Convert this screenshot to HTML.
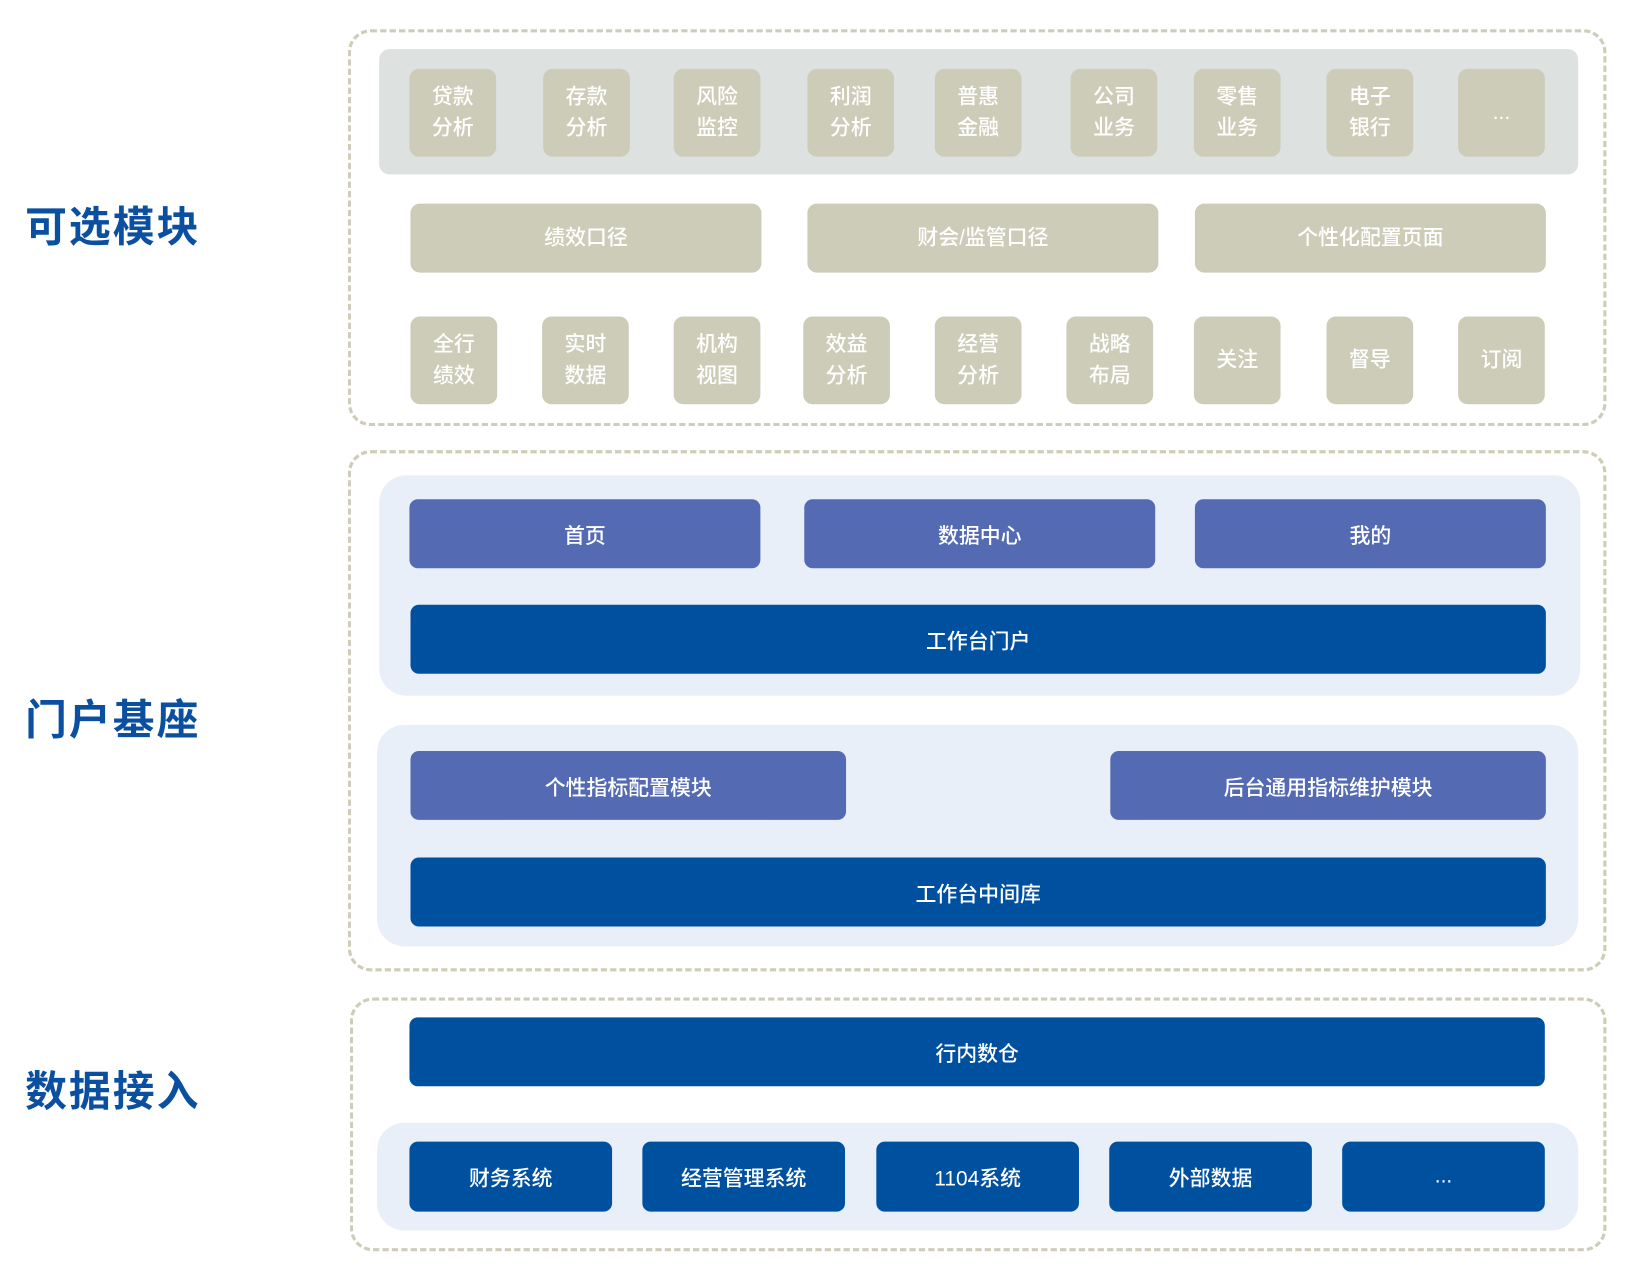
<!DOCTYPE html>
<html><head><meta charset="utf-8"><style>
html,body{margin:0;padding:0;background:#fff;width:1636px;height:1286px;overflow:hidden}
#w{position:absolute;left:0;top:0;width:1560px;height:1226px;transform:scale(1.0445);transform-origin:0 0;font-family:"Liberation Sans","Noto Sans CJK SC",sans-serif}
.a{position:absolute;box-sizing:border-box}
.d{border:3px dashed #cfcdb9;border-radius:22px}
.t{background:#cdccb8;border-radius:9px;color:#fff;font-size:20px;font-weight:500;line-height:30px;display:flex;align-items:center;justify-content:center;text-align:center}
.p{background:#e8eff9;border-radius:26px}
.b{border-radius:8px;color:#fff;font-size:20px;font-weight:500;display:flex;align-items:center;justify-content:center}
.m{background:#546bb3}.n{background:#0050a0}
.l{color:#0b4fa0;font-size:40px;font-weight:bold;letter-spacing:2px;left:24px;line-height:50px}
</style></head><body><div id="w">
<div class="a d" style="left:333px;top:28px;width:1205px;height:380px"></div>
<div class="a" style="left:363px;top:47px;width:1148px;height:120px;background:#dde1e0;border-radius:10px"></div>
<div class="a t" style="left:392px;top:66px;width:83px;height:84px">贷款<br>分析</div>
<div class="a t" style="left:520px;top:66px;width:83px;height:84px">存款<br>分析</div>
<div class="a t" style="left:645px;top:66px;width:83px;height:84px">风险<br>监控</div>
<div class="a t" style="left:773px;top:66px;width:83px;height:84px">利润<br>分析</div>
<div class="a t" style="left:895px;top:66px;width:83px;height:84px">普惠<br>金融</div>
<div class="a t" style="left:1025px;top:66px;width:83px;height:84px">公司<br>业务</div>
<div class="a t" style="left:1143px;top:66px;width:83px;height:84px">零售<br>业务</div>
<div class="a t" style="left:1270px;top:66px;width:83px;height:84px">电子<br>银行</div>
<div class="a t" style="left:1396px;top:66px;width:83px;height:84px">...</div>
<div class="a t" style="left:393px;top:195px;width:336px;height:66px">绩效口径</div>
<div class="a t" style="left:773px;top:195px;width:336px;height:66px">财会/监管口径</div>
<div class="a t" style="left:1144px;top:195px;width:336px;height:66px">个性化配置页面</div>
<div class="a t" style="left:393px;top:303px;width:83px;height:84px">全行<br>绩效</div>
<div class="a t" style="left:519px;top:303px;width:83px;height:84px">实时<br>数据</div>
<div class="a t" style="left:645px;top:303px;width:83px;height:84px">机构<br>视图</div>
<div class="a t" style="left:769px;top:303px;width:83px;height:84px">效益<br>分析</div>
<div class="a t" style="left:895px;top:303px;width:83px;height:84px">经营<br>分析</div>
<div class="a t" style="left:1021px;top:303px;width:83px;height:84px">战略<br>布局</div>
<div class="a t" style="left:1143px;top:303px;width:83px;height:84px">关注</div>
<div class="a t" style="left:1270px;top:303px;width:83px;height:84px">督导</div>
<div class="a t" style="left:1396px;top:303px;width:83px;height:84px">订阅</div>
<div class="a l" style="top:193px">可选模块</div>

<div class="a d" style="left:333px;top:431px;width:1205px;height:499px"></div>
<div class="a p" style="left:363px;top:455px;width:1150px;height:211px"></div>
<div class="a b m" style="left:392px;top:478px;width:336px;height:66px">首页</div>
<div class="a b m" style="left:770px;top:478px;width:336px;height:66px">数据中心</div>
<div class="a b m" style="left:1144px;top:478px;width:336px;height:66px">我的</div>
<div class="a b n" style="left:393px;top:579px;width:1087px;height:66px">工作台门户</div>
<div class="a p" style="left:361px;top:694px;width:1150px;height:212px"></div>
<div class="a b m" style="left:393px;top:719px;width:417px;height:66px">个性指标配置模块</div>
<div class="a b m" style="left:1063px;top:719px;width:417px;height:66px">后台通用指标维护模块</div>
<div class="a b n" style="left:393px;top:821px;width:1087px;height:66px">工作台中间库</div>
<div class="a l" style="top:665px">门户基座</div>

<div class="a d" style="left:335px;top:955px;width:1203px;height:243px"></div>
<div class="a b n" style="left:392px;top:974px;width:1087px;height:66px">行内数仓</div>
<div class="a p" style="left:361px;top:1075px;width:1150px;height:103px"></div>
<div class="a b n" style="left:392px;top:1093px;width:194px;height:67px">财务系统</div>
<div class="a b n" style="left:615px;top:1093px;width:194px;height:67px">经营管理系统</div>
<div class="a b n" style="left:839px;top:1093px;width:194px;height:67px">1104系统</div>
<div class="a b n" style="left:1062px;top:1093px;width:194px;height:67px">外部数据</div>
<div class="a b n" style="left:1285px;top:1093px;width:194px;height:67px">...</div>
<div class="a l" style="top:1021px">数据接入</div>
</div></body></html>
